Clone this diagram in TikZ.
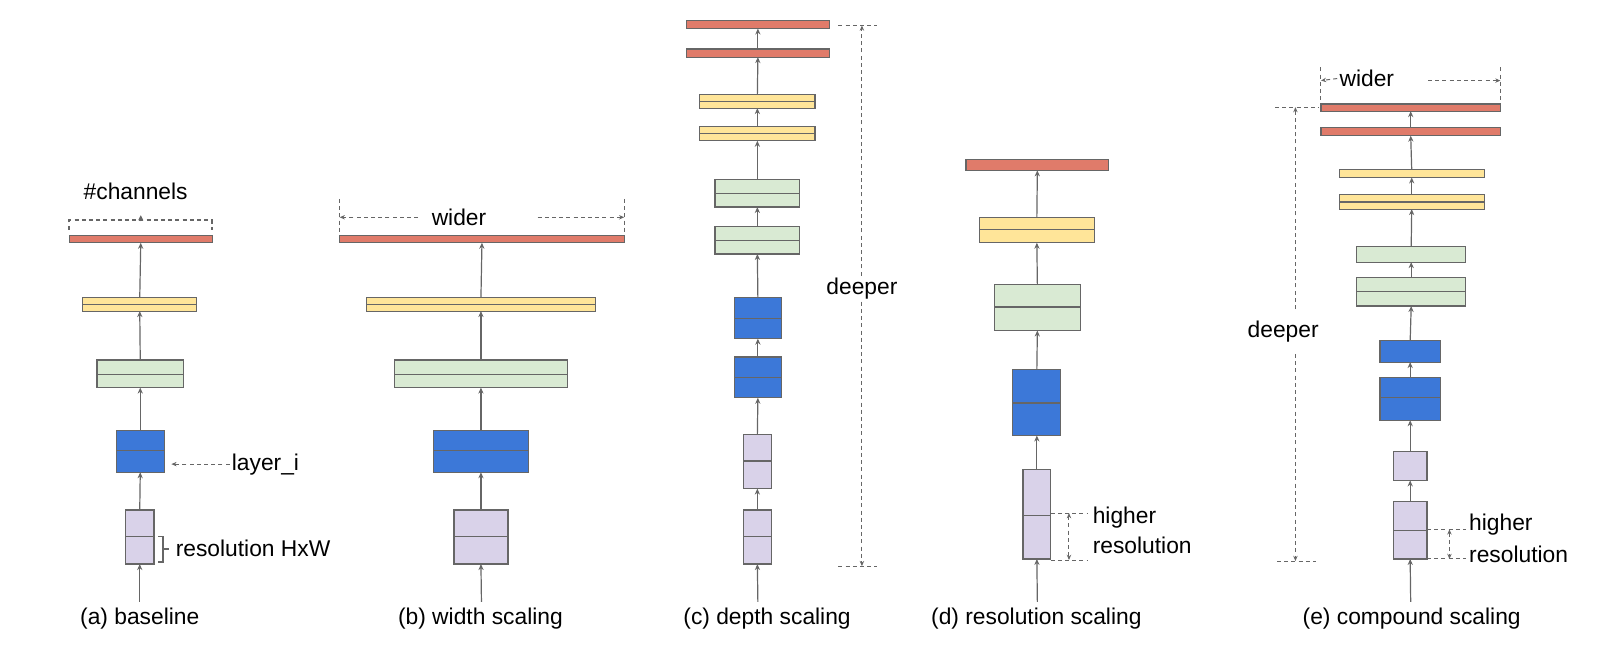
\documentclass[tikz,border=0pt]{standalone}
\usepackage{fontspec}
\setmainfont{Liberation Sans}
\usetikzlibrary{arrows.meta}
\definecolor{cred}{HTML}{E07B6A}
\definecolor{cyel}{HTML}{FFE599}
\definecolor{cgrn}{HTML}{D9EAD3}
\definecolor{cblu}{HTML}{3C78D8}
\definecolor{clav}{HTML}{D9D2E9}
\definecolor{cln}{HTML}{666666}
\tikzset{
 blk/.style={draw=cln, line width=0.6pt, inner sep=0pt, outer sep=0pt, rectangle},
 arr/.style={draw=cln, line width=0.6pt, -{Stealth[length=3pt,width=2.6pt]}},
 dsh/.style={draw=cln, line width=0.5pt, dash pattern=on 2pt off 1.6pt},
 dar/.style={dsh, -{Stealth[length=2.6pt,width=2.2pt]}},
 ddar/.style={dsh, {Stealth[length=2.6pt,width=2.2pt]}-{Stealth[length=2.6pt,width=2.2pt]}},
 lbl/.style={font=\fontsize{11.4pt}{13pt}\selectfont, inner sep=1pt, text=black},
}
\newcommand\blk[7]{%
 \node[blk, fill=#6, minimum width={(#3-#2)*0.51pt}, minimum height={(#5-#4)*0.51pt}] (#1) at ({(#2+#3)/2},{(#4+#5)/2}) {};
 \ifx\relax#7\relax\else\draw[cln, line width=0.6pt] (#2,#7) -- (#3,#7);\fi}
\begin{document}
\begin{tikzpicture}[x=0.51pt,y=-0.51pt]
\useasboundingbox (0,0) rectangle (1568.6,654.9);
% ---------- (a)
\blk{ar}{68}{208}{231}{238}{cred}{}
\blk{ay}{81}{193}{292}{305}{cyel}{298.5}
\blk{ag}{95}{180}{353}{380}{cgrn}{367}
\blk{ab}{114}{161}{422}{463}{cblu}{442}
\blk{al}{123}{151}{500}{553}{clav}{526}
\coordinate (ain) at (137,590);
\draw[arr] (ain) -- (al.south);
\draw[arr] (al.north) -- (ab.south);
\draw[arr] (ab.north) -- (ag.south);
\draw[arr] (ag.north) -- (ay.south);
\draw[arr] (ay.north) -- (ar.south);
\draw[dsh, line width=0.9pt] (68,225) -- (68,216) -- (208,216) -- (208,225);
\draw[cln, line width=0.6pt, -{Stealth[length=2.5pt,width=2.5pt]}] (138,217) -- (138,211);
\node[lbl] (ach) at (133,188) {\#channels};
\coordinate (alay) at (225,455);
\draw[dar] (alay) -- (168,455);
\node[lbl, anchor=west] (alayt) at (alay) {layer\_i};
\draw[cln, line width=0.9pt] (155,526) -- (160,526) -- (160,551) -- (155,551) (160,538) -- (166,538);
\node[lbl, anchor=west] (ares) at (170,538) {resolution HxW};
\node[lbl] (acap) at (137,606) {(a) baseline};
% ---------- (b)
\blk{br}{333}{612}{231}{238}{cred}{}
\blk{by}{359}{584}{292}{305}{cyel}{298.5}
\blk{bg}{387}{556}{353}{380}{cgrn}{367}
\blk{bb}{425}{518}{422}{463}{cblu}{442}
\blk{bl}{445}{498}{500}{553}{clav}{526}
\coordinate (bin) at (472,590);
\draw[arr] (bin) -- (bl.south);
\draw[arr] (bl.north) -- (bb.south);
\draw[arr] (bb.north) -- (bg.south);
\draw[arr] (bg.north) -- (by.south);
\draw[arr] (by.north) -- (br.south);
\draw[dsh] (333,195) -- (333,231) (612,195) -- (612,231);
\node[lbl] (bw) at (450,213) {wider};
\coordinate (bwl) at (410,213); \coordinate (bwr) at (527,213);
\draw[dar] (bwl) -- (333,213);
\draw[dar] (bwr) -- (612,213);
\node[lbl] (bcap) at (471,606) {(b) width scaling};
% ---------- (c)
\blk{cr1}{673}{813}{20}{28}{cred}{}
\blk{cr2}{673}{813}{48}{56}{cred}{}
\blk{cy1}{686}{799}{93}{106}{cyel}{99.5}
\blk{cy2}{686}{799}{124}{138}{cyel}{131}
\blk{cg1}{701}{784}{176}{203}{cgrn}{189.5}
\blk{cg2}{701}{784}{222}{249}{cgrn}{235.5}
\blk{cb1}{720}{766}{292}{332}{cblu}{312}
\blk{cb2}{720}{766}{350}{390}{cblu}{370}
\blk{cl1}{729}{756}{426}{479}{clav}{452}
\blk{cl2}{729}{756}{500}{553}{clav}{526}
\coordinate (cin) at (743,590);
\draw[arr] (cin) -- (cl2.south);
\draw[arr] (cl2.north) -- (cl1.south);
\draw[arr] (cl1.north) -- (cb2.south);
\draw[arr] (cb2.north) -- (cb1.south);
\draw[arr] (cb1.north) -- (cg2.south);
\draw[arr] (cg2.north) -- (cg1.south);
\draw[arr] (cg1.north) -- (cy2.south);
\draw[arr] (cy2.north) -- (cy1.south);
\draw[arr] (cy1.north) -- (cr2.south);
\draw[arr] (cr2.north) -- (cr1.south);
\draw[dsh] (822,25) -- (860,25) (822,555) -- (860,555);
\node[lbl] (cdp) at (845,283) {deeper};
\draw[dar] (cdp.north) -- (845,25);
\draw[dar] (cdp.south) -- (845,555);
\node[lbl] (ccap) at (752,606) {(c) depth scaling};
% ---------- (d)
\blk{dr}{947}{1087}{156}{167}{cred}{}
\blk{dy}{960}{1073}{213}{238}{cyel}{225}
\blk{dg}{975}{1059}{279}{324}{cgrn}{301}
\blk{db}{993}{1040}{362}{427}{cblu}{395}
\blk{dl}{1003}{1030}{460}{548}{clav}{505}
\coordinate (din) at (1017,590);
\draw[arr] (din) -- (dl.south);
\draw[arr] (dl.north) -- (db.south);
\draw[arr] (db.north) -- (dg.south);
\draw[arr] (dg.north) -- (dy.south);
\draw[arr] (dy.north) -- (dr.south);
\draw[dsh] (1030,503) -- (1066,503) (1030,549) -- (1066,549);
\draw[ddar] (1048,503) -- (1048,549);
\node[lbl, anchor=west] (dh) at (1069,507) {higher};
\node[lbl, anchor=west] (dres) at (1069,535) {resolution};
\node[lbl] (dcap) at (1016,606) {(d) resolution scaling};
% ---------- (e)
\blk{er1}{1295}{1471}{102}{109}{cred}{}
\blk{er2}{1295}{1471}{125}{133}{cred}{}
\blk{ey1}{1313}{1455}{166}{174}{cyel}{}
\blk{ey2}{1313}{1455}{191}{205}{cyel}{198}
\blk{eg1}{1330}{1437}{242}{257}{cgrn}{}
\blk{eg2}{1330}{1437}{272}{300}{cgrn}{286}
\blk{eb1}{1353}{1412}{334}{355}{cblu}{}
\blk{eb2}{1353}{1412}{370}{412}{cblu}{390}
\blk{el1}{1366}{1399}{443}{471}{clav}{}
\blk{el2}{1366}{1399}{492}{548}{clav}{520}
\coordinate (ein) at (1383,590);
\draw[arr] (ein) -- (el2.south);
\draw[arr] (el2.north) -- (el1.south);
\draw[arr] (el1.north) -- (eb2.south);
\draw[arr] (eb2.north) -- (eb1.south);
\draw[arr] (eb1.north) -- (eg2.south);
\draw[arr] (eg2.north) -- (eg1.south);
\draw[arr] (eg1.north) -- (ey2.south);
\draw[arr] (ey2.north) -- (ey1.south);
\draw[arr] (ey1.north) -- (er2.south);
\draw[arr] (er2.north) -- (er1.south);
\draw[dsh] (1295,66) -- (1295,102) (1471,66) -- (1471,102);
\node[lbl] (ew) at (1340,77) {wider};
\coordinate (ewr) at (1400,79);
\draw[dar] (ew.west) -- (1295,79);
\draw[dar] (ewr) -- (1471,79);
\draw[dsh] (1250,105) -- (1293,105) (1252,550) -- (1290,550);
\node[lbl] (edp) at (1258,325) {deeper};
\draw[dar] (1270,303) -- (1270,105);
\draw[dar] (1270,347) -- (1270,550);
\draw[dsh] (1399,519) -- (1437,519) (1399,548) -- (1437,548);
\draw[ddar] (1421,519) -- (1421,548);
\node[lbl, anchor=west] (eh) at (1438,514) {higher};
\node[lbl, anchor=west] (eres) at (1438,543) {resolution};
\node[lbl] (ecap) at (1384,606) {(e) compound scaling};
\end{tikzpicture}
\end{document}
